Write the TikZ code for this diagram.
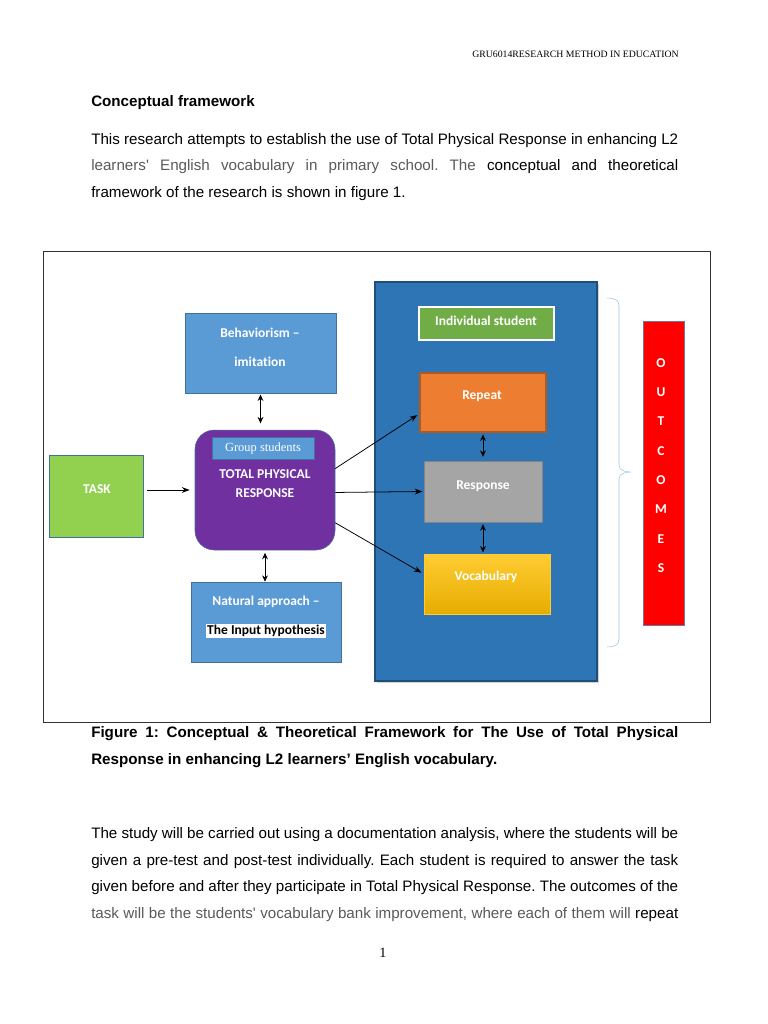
\documentclass[tikz,border=0pt]{standalone}
\usepackage{fontspec}
\setmainfont{Liberation Sans}
\newfontfamily\seriffont{Liberation Serif}
\newfontfamily\boxfont[Ligatures=NoCommon]{Carlito}
\usetikzlibrary{arrows.meta,shadows}
\definecolor{boxblue}{RGB}{91,155,213}
\definecolor{boxedge}{RGB}{65,113,156}
\definecolor{tprpurple}{RGB}{112,48,160}
\definecolor{taskgreen}{RGB}{146,208,80}
\definecolor{bigblue}{RGB}{46,117,182}
\definecolor{bigedge}{RGB}{31,78,121}
\definecolor{indgreen}{RGB}{112,173,71}
\definecolor{reporange}{RGB}{237,125,49}
\definecolor{repedge}{RGB}{174,90,33}
\definecolor{respgray}{RGB}{165,165,165}
\definecolor{vocgoldtop}{RGB}{255,204,51}
\definecolor{vocgoldbot}{RGB}{230,172,0}
\definecolor{outred}{RGB}{255,0,0}
\definecolor{outedge}{RGB}{110,120,150}
\definecolor{bracecol}{RGB}{157,195,230}
\definecolor{softtext}{RGB}{90,90,90}
\newcommand\pxu{0.027344cm}
\newlength\textw
\setlength\textw{16.05cm}
\newcommand\jline[1]{\makebox[\textw][s]{#1}}
\newcommand\bodysize{\fontsize{11.8}{14}\selectfont}
\frenchspacing
\begin{document}
\begin{tikzpicture}[x=\pxu,y=-\pxu,
    box/.style={draw=boxedge, fill=boxblue, inner sep=0pt},
    boxtext/.style={text=white, inner sep=0pt, font=\boxfont\bfseries\fontsize{10.5}{12}\selectfont},
    line/.style={anchor=base west, inner sep=0pt, font=\bodysize},
    arr/.style={-{Stealth[length=6pt,width=4.5pt]}, semithick},
    darr/.style={{Stealth[length=5pt,width=4.5pt]}-{Stealth[length=5pt,width=4.5pt]}, semithick}]
  \path[use as bounding box, fill=white] (0,0) rectangle (768,1024);
  % page text above the figure
  \node[anchor=base east, inner sep=0pt, font=\seriffont\fontsize{7.6}{9}\selectfont] (head) at (679,57) {GRU6014RESEARCH METHOD IN EDUCATION};
  \node[line, font=\bodysize\bfseries] (title) at (91,106.7) {Conceptual framework};
  \node[line] (p1a) at (91,144) {\jline{This research attempts to establish the use of Total Physical Response in enhancing L2}};
  \node[line] (p1b) at (91,170.5) {\jline{\textcolor{softtext}{learners\textquotesingle{} English vocabulary in primary school. The} conceptual and theoretical}};
  \node[line] (p1c) at (91,197) {framework of the research is shown in figure 1.};
  % figure
  \draw[black!80, line width=0.6pt] (43,251) rectangle (710,722);
  \node[draw=bigedge, line width=1.2pt, fill=bigblue, drop shadow={opacity=0.35, shadow xshift=1.5pt, shadow yshift=-1.5pt},
        minimum width=222*\pxu, minimum height=399*\pxu] (indiv) at (486,481.5) {};
  \node[box, minimum width=151*\pxu, minimum height=80*\pxu] (beh) at (260.5,353) {};
  \node[boxtext] (behtxt) at (260,333) {Behaviorism –};
  \node[boxtext] (imit) at (260,362) {imitation};
  \node[draw=boxedge, fill=tprpurple, rounded corners=15pt, minimum width=140*\pxu, minimum height=120*\pxu] (tpr) at (265,490) {};
  \node[box, minimum width=102*\pxu, minimum height=22*\pxu, text=white, font=\seriffont\fontsize{9.7}{11}\selectfont] (grp) at (263,448) {Group students};
  \node[boxtext] (tprtxt) at (265,474) {TOTAL PHYSICAL};
  \node[boxtext] (tprtxtb) at (265,493) {RESPONSE};
  \node[draw=boxedge, fill=taskgreen, minimum width=94*\pxu, minimum height=82*\pxu] (task) at (96,496) {};
  \node[boxtext] (tasktxt) at (97,489) {TASK};
  \node[box, minimum width=150*\pxu, minimum height=80*\pxu] (nat) at (266,622) {};
  \node[boxtext] (nattxt) at (266,602) {Natural approach –};
  \node[boxtext, fill=white, text=black, inner sep=1pt] (input) at (266,631) {The Input hypothesis};
  \node[draw=white, line width=1.2pt, fill=indgreen, minimum width=135*\pxu, minimum height=33*\pxu] (ind) at (486.5,323.5) {};
  \node[boxtext] (indtxt) at (486,321) {Individual student};
  \node[draw=repedge, line width=0.8pt, fill=reporange, minimum width=126*\pxu, minimum height=59*\pxu] (rep) at (483,402.5) {};
  \node[boxtext] (reptxt) at (482,396) {Repeat};
  \node[draw=respgray!80!black, fill=respgray, minimum width=118*\pxu, minimum height=61*\pxu] (resp) at (483,491.5) {};
  \node[boxtext] (resptxt) at (483,486) {Response};
  \node[draw=vocgoldtop, top color=vocgoldtop, bottom color=vocgoldbot, minimum width=126*\pxu, minimum height=60*\pxu] (voc) at (487,584) {};
  \node[boxtext] (voctxt) at (486,577) {Vocabulary};
  \node[draw=outedge, fill=outred, minimum width=41*\pxu, minimum height=304*\pxu] (outc) at (663.5,473) {};
  \foreach \ch [count=\i] in {O,U,T,C,O,M,E,S}
    \node[boxtext, font=\boxfont\bfseries\fontsize{10.5}{12}\selectfont] (out\i) at (661,363+29.3*\i-29.3) {\ch};
  % connectors
  \draw[arr, shorten <=3pt, shorten >=4pt] (task.east |- tpr.west) -- (tpr.west);
  \draw[darr, shorten <=1pt, shorten >=5pt] (beh.south) -- (beh.south |- tpr.north);
  \draw[darr, shorten <=2pt, shorten >=0pt] (tpr.south) -- (tpr.south |- nat.north);
  \draw[arr, shorten >=2pt] (tpr.17) -- (rep.190);
  \draw[arr, shorten >=1pt] (tpr.-2) -- (resp.west);
  \draw[arr, shorten >=2pt] (tpr.-25) -- (voc.171);
  \draw[darr, shorten <=1.5pt, shorten >=3pt] (rep.south) -- (rep.south |- resp.north);
  \draw[darr, shorten <=1.5pt, shorten >=1pt] (resp.south) -- (resp.south |- voc.north);
  \draw[bracecol, thin] (607,298) .. controls (615,298) and (619,300) .. (619,306) -- (619,465)
    .. controls (619,470) and (624,472) .. (631,472) .. controls (624,472) and (619,474) .. (619,479)
    -- (619,639) .. controls (619,645) and (615,647) .. (607,647);
  % caption and text below
  \node[line, font=\bodysize\bfseries] (cap) at (91,737.3) {\jline{Figure 1: Conceptual \& Theoretical Framework for The Use of Total Physical}};
  \node[line, font=\bodysize\bfseries] (capb) at (91,764) {Response in enhancing L2 learners’ English vocabulary.};
  \node[line] (p2a) at (91,838.3) {\jline{The study will be carried out using a documentation analysis, where the students will be}};
  \node[line] (p2b) at (91,865) {\jline{given a pre-test and post-test individually. Each student is required to answer the task}};
  \node[line] (p2c) at (91,891.7) {\jline{given before and after they participate in Total Physical Response. The outcomes of the}};
  \node[line] (p2d) at (91,918.3) {\jline{\textcolor{softtext}{task will be the students\textquotesingle{} vocabulary bank improvement, where each of them will} repeat}};
  \node[anchor=base, inner sep=0pt, font=\seriffont\fontsize{11}{13}\selectfont] (pnum) at (383,957) {1};
\end{tikzpicture}
\end{document}
